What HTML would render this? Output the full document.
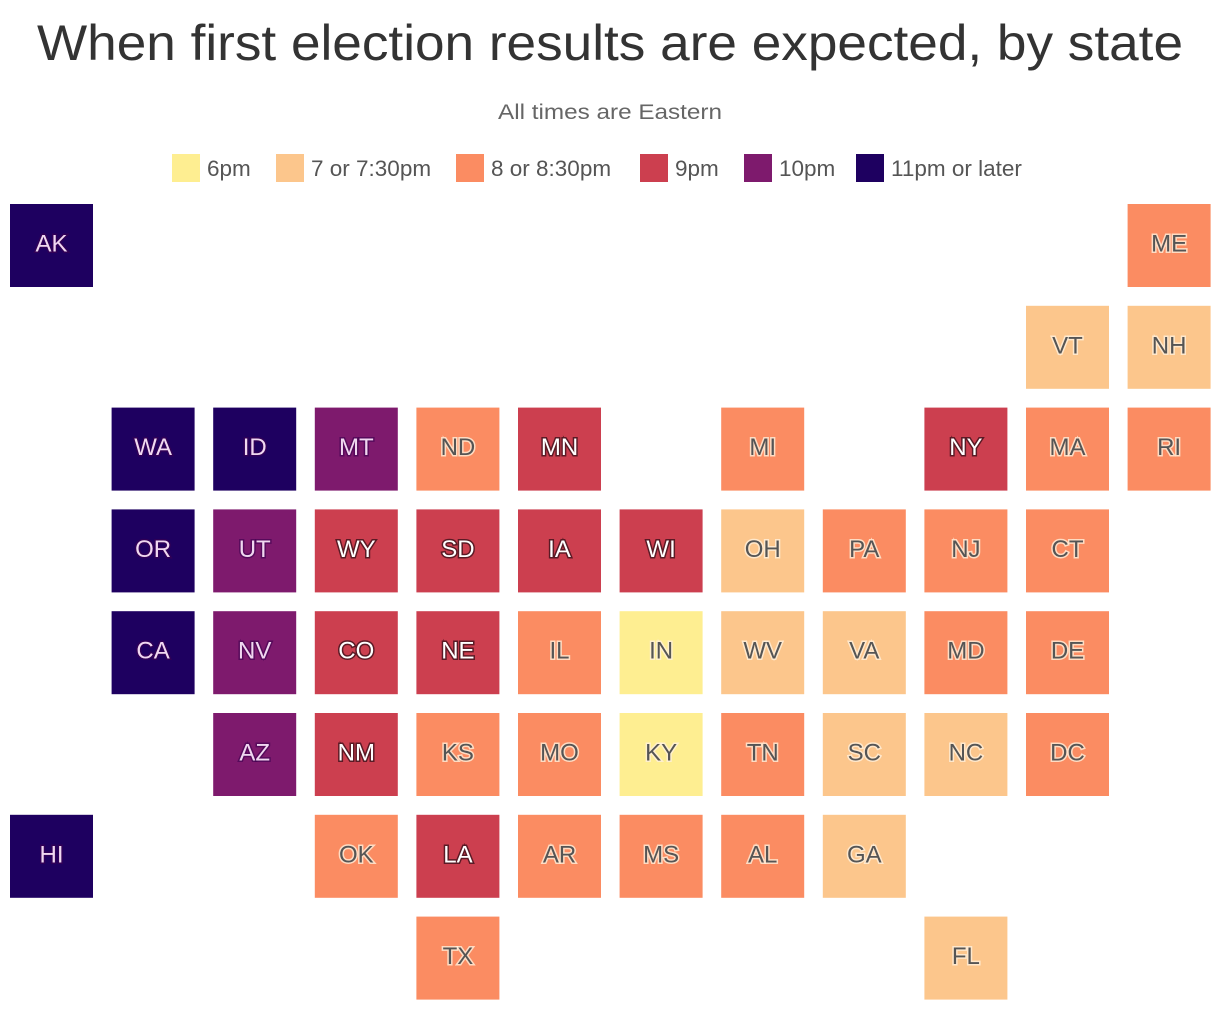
<!DOCTYPE html>
<html><head><meta charset="utf-8"><style>
body{margin:0;background:#fff;font-family:"Liberation Sans",sans-serif;}
svg{display:block}
</style></head><body>
<svg id="chart" width="1220" height="1012">
<text x="610" y="60" text-anchor="middle" font-size="50" fill="#333" textLength="1146" lengthAdjust="spacingAndGlyphs">When first election results are expected, by state</text>
<text x="610" y="119" text-anchor="middle" font-size="21" fill="#666" textLength="224" lengthAdjust="spacingAndGlyphs">All times are Eastern</text>
<g id="legend"></g>
<g id="tiles"></g>
</svg>
<script>
const categories=["6pm","7 or 7:30pm","8 or 8:30pm","9pm","10pm","11pm or later"];
const colors=["#feee91","#fcc68c","#fb8c62","#cc3f4f","#7e1a6d","#1e0060"];
const states=["AK","ME","VT","NH","WA","ID","MT","ND","MN","MI","NY","MA","RI","OR","UT","WY","SD","IA","WI","OH","PA","NJ","CT","CA","NV","CO","NE","IL","IN","WV","VA","MD","DE","AZ","NM","KS","MO","KY","TN","SC","NC","DC","HI","OK","LA","AR","MS","AL","GA","TX","FL"];
const cols=[0,11,10,11,1,2,3,4,5,7,9,10,11,1,2,3,4,5,6,7,8,9,10,1,2,3,4,5,6,7,8,9,10,2,3,4,5,6,7,8,9,10,0,3,4,5,6,7,8,4,9];
const rows=[0,0,1,1,2,2,2,2,2,2,2,2,2,3,3,3,3,3,3,3,3,3,3,4,4,4,4,4,4,4,4,4,4,5,5,5,5,5,5,5,5,5,6,6,6,6,6,6,6,7,7];
const times=[5,2,1,1,5,5,4,2,3,2,3,2,2,5,4,3,3,3,3,1,2,2,2,5,4,3,3,2,0,1,1,2,2,4,3,2,2,0,2,1,1,2,5,2,3,2,2,2,1,2,1];
const NS="http://www.w3.org/2000/svg";
const xS=c=>10+c*101.6, yS=r=>204+r*101.8, S=83;
const tg=document.getElementById('tiles');
states.forEach((s,i)=>{
  const t=times[i];
  const r=document.createElementNS(NS,'rect');
  r.setAttribute('x',xS(cols[i]));r.setAttribute('y',yS(rows[i]));
  r.setAttribute('width',S);r.setAttribute('height',S);r.setAttribute('fill',colors[t]);
  
  
  tg.appendChild(r);
  const tx=document.createElementNS(NS,'text');
  tx.setAttribute('x',xS(cols[i])+S/2);tx.setAttribute('y',yS(rows[i])+S/2+6);
  tx.setAttribute('text-anchor','middle');tx.setAttribute('font-size','24');
  let fill='#555',stroke='rgba(255,240,220,0.8)';
  if(t===3){fill='#fff';stroke='#5a1a25';}
  if(t>=4){fill='#f0d8f0';stroke='rgba(60,0,80,0.6)';}
  tx.setAttribute('fill',fill);tx.setAttribute('stroke',stroke);tx.setAttribute('stroke-width','3');
  tx.setAttribute('paint-order','stroke');
  tx.textContent=s;
  
  
  tg.appendChild(tx);
});
const lg=document.getElementById('legend');
const lx=[172,276,456,640,744,856];
categories.forEach((c,i)=>{
  const r=document.createElementNS(NS,'rect');
  r.setAttribute('x',lx[i]);r.setAttribute('y',154);r.setAttribute('width',28);r.setAttribute('height',28);
  r.setAttribute('fill',colors[i]);
  
  
  lg.appendChild(r);
  const t=document.createElementNS(NS,'text');
  t.setAttribute('x',lx[i]+35);t.setAttribute('y',176);t.setAttribute('font-size','22.5');t.setAttribute('fill','#555');
  t.textContent=c;
  
  
  lg.appendChild(t);
});
</script>
</body></html>
